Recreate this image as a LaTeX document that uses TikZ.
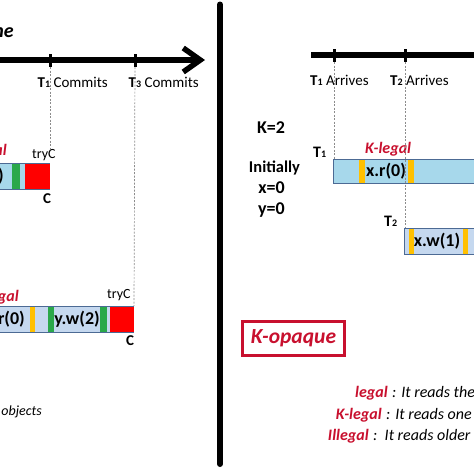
\documentclass[tikz,border=0pt]{standalone}
\usepackage{fontspec}
\setmainfont{Carlito}
\usetikzlibrary{arrows.meta,positioning}
\definecolor{skyfill}{HTML}{A7D8EB}
\definecolor{palefill}{HTML}{C5D8EF}
\definecolor{boxedge}{HTML}{4C6A94}
\definecolor{grnbar}{HTML}{2AA84A}
\definecolor{orgbar}{HTML}{FFC000}
\definecolor{redblk}{HTML}{FF0000}
\definecolor{keyred}{HTML}{C8102E}
\definecolor{guidegrey}{HTML}{8C8C8C}
\newcommand{\fsz}[1]{\fontsize{#1}{#1}\selectfont}
\newcommand{\tsub}[2]{\textbf{#1{\fsz{10}#2}}}

\begin{document}
\begin{tikzpicture}[x=1pt, y=-1pt,
    timeax/.style={line width=5.5pt, -{Straight Barb[length=17pt,width=24pt]}},
    flatax/.style={line width=5.5pt},
    tickmk/.style={line width=3pt},
    guide/.style={draw=guidegrey, line width=0.7pt, dash pattern=on 2pt off 1.5pt},
    txbox/.style={draw=boxedge, line width=0.9pt, inner sep=0pt, minimum height=26pt},
    bar/.style={inner sep=0pt, minimum height=25pt, minimum width=#1, anchor=north west},
    optxt/.style={font=\fsz{18}\bfseries, inner sep=0pt},
    lab/.style={font=\fsz{15}, inner sep=0pt},
    keylab/.style={font=\fsz{16}\bfseries\itshape, text=keyred, inner sep=0pt},
    legtxt/.style={font=\fsz{16}\itshape, inner sep=0pt}]

  \useasboundingbox (0,0) rectangle (474,474);

  % ---- left: commit order
  \node[font=\fsz{20}\bfseries\itshape, inner sep=0pt, anchor=base east] (ttl) at (14,37) {Timeline};
  \coordinate (la0) at (-8,60);
  \coordinate (la1) at (205,60);
  \draw[timeax] (la0) -- (la1);

  \foreach \n/\x/\lx/\t in {c1/50/37.5/1, c3/135/128.5/3}
  {
    \coordinate (\n) at (\x,67);
    \draw[tickmk] (\x,54) -- (\n);
    \node[lab, anchor=base west] (\n lab) at (\lx,87) {\tsub{T}{\t} Commits};
  }

  % upper transaction
  \node[txbox, fill=skyfill, minimum width=62pt, anchor=north east] (op1) at (50,163) {};
  \node[bar=8pt, fill=grnbar] (g1) at (12,163.5) {};
  \node[bar=24.5pt, fill=redblk] (r1) at (25,163.5) {};
  \node[optxt, anchor=east] (xr1) at (4,176) {x.r(0)};
  \node[lab, font=\fsz{14}, anchor=base west] (try1) at (32,158) {tryC};
  \node[optxt, font=\fsz{15}\bfseries, anchor=base west] (cc1) at (43,203) {C};
  \node[keylab, anchor=base east] (kl1) at (7,155) {legal};
  \draw[guide] (c1) -- (c1 |- try1.north);

  % lower transaction
  \node[txbox, fill=palefill, minimum width=146pt, anchor=north east] (op2) at (134,306) {};
  \node[bar=5pt, fill=orgbar] (o2) at (30,306.5) {};
  \node[bar=5.5pt, fill=grnbar] (g2) at (48,306.5) {};
  \node[bar=6.5pt, fill=grnbar] (g3) at (100,306.5) {};
  \node[bar=23.5pt, fill=redblk] (r2) at (110,306.5) {};
  \node[optxt, anchor=east] (xr2) at (25,319) {x.r(0)};
  \node[optxt] (yw2) at (77,319) {y.w(2)};
  \node[lab, font=\fsz{14}, anchor=base west] (try2) at (107,298) {tryC};
  \node[optxt, font=\fsz{15}\bfseries, anchor=base west] (cc2) at (126,345) {C};
  \node[keylab, anchor=base east] (kl2) at (19,301) {Illegal};
  \draw[guide] (c3) -- (op2.north east);

  \node[legtxt, font=\fsz{14}\itshape, anchor=base east] (objs) at (42,415) {objects};

  % divider
  \coordinate (dv0) at (220,4.5);
  \coordinate (dv1) at (220,464);
  \draw[line width=6pt, line cap=round] (dv0) -- (dv1);

  % ---- right: K-opacity
  \coordinate (ra0) at (311,55);
  \coordinate (ra1) at (480,55);
  \draw[flatax] (ra0) -- (ra1);

  \foreach \n/\x/\lx/\t in {a1/334/310/1, a2/405/390/2}
  {
    \coordinate (\n) at (\x,62);
    \draw[tickmk] (\x,49) -- (\n);
    \node[lab, anchor=base west] (\n lab) at (\lx,85) {\tsub{T}{\t} Arrives};
  }

  \node[optxt, anchor=base] (kval) at (271,133) {K=2};
  \node[optxt, font=\fsz{16.5}\bfseries, anchor=base] (init) at (274.5,172) {Initially};
  \node[optxt, anchor=base] (xini) at (271.5,193) {x=0};
  \node[optxt, anchor=base] (yini) at (271.5,214) {y=0};

  % T1
  \node[txbox, fill=skyfill, minimum height=24pt, minimum width=150pt, anchor=north west] (t1box) at (333,159) {};
  \node[bar=5.5pt, fill=orgbar, minimum height=23pt] (o11) at (359,159.5) {};
  \node[bar=5.5pt, fill=orgbar, minimum height=23pt] (o12) at (408,159.5) {};
  \node[optxt] (xr3) at (386,171) {x.r(0)};
  \node[lab, font=\fsz{16}, anchor=base west] (t1n) at (313,157) {\tsub{T}{1}};
  \node[keylab, anchor=base west] (kl3) at (365,153) {K-legal};
  \draw[guide] (a1) -- (a1 |- t1box.north);

  % T2
  \node[txbox, fill=palefill, minimum width=80pt, anchor=north west] (t2box) at (404,228) {};
  \node[bar=4.5pt, fill=orgbar] (o21) at (409,228.5) {};
  \node[bar=4.5pt, fill=orgbar] (o22) at (463,228.5) {};
  \node[optxt] (xw1) at (437,241) {x.w(1)};
  \node[lab, font=\fsz{16}, anchor=base west] (t2n) at (384,226) {\tsub{T}{2}};
  \draw[guide] (a2) -- (a2 |- t2box.north);

  \node[draw=keyred, line width=3pt, minimum width=102pt, minimum height=34pt,
        font=\fsz{21.5}\bfseries\itshape, text=keyred] (kop) at (293.5,338.5) {K-opaque};

  \foreach \y/\xe/\key/\rest in {
      397/388/legal/{: It reads the},
      419/382/K-legal/{: It reads one},
      440/369/Illegal/{:\ \ It reads older}}
  {
    \node[keylab, anchor=base east] (k) at (\xe,\y) {\key};
    \node[legtxt, anchor=base west] (d) at ([xshift=4pt]k.base east) {\rest};
  }
\end{tikzpicture}
\end{document}
